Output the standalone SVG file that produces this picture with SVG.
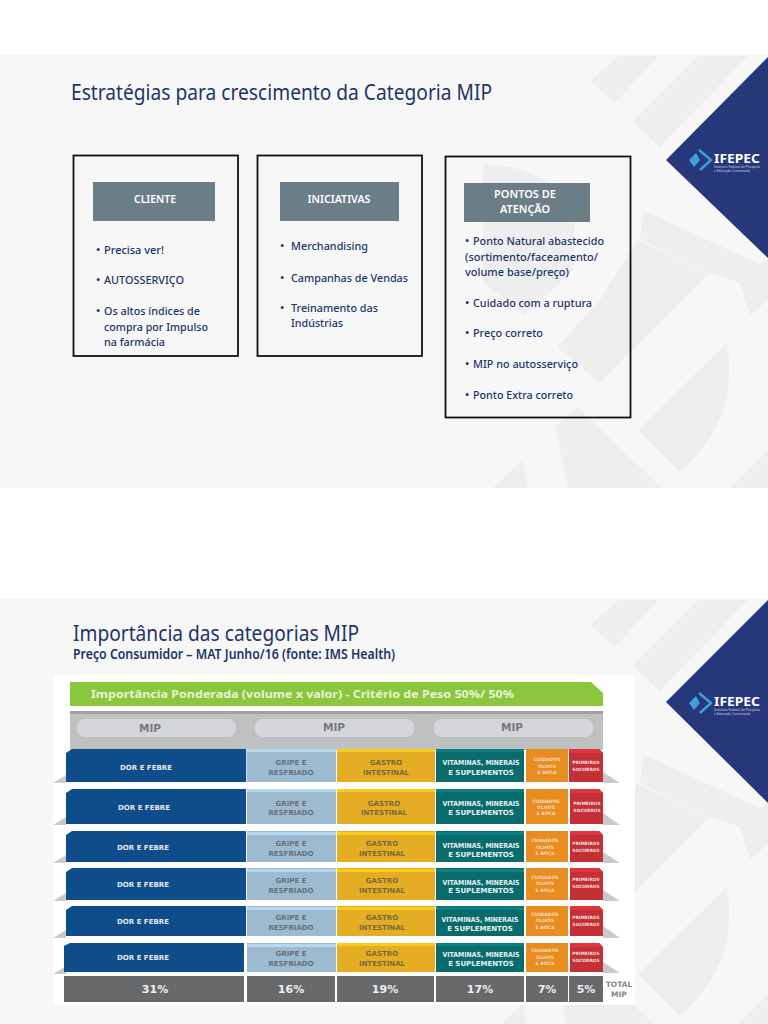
<svg xmlns="http://www.w3.org/2000/svg" width="768" height="1024" viewBox="0 0 768 1024">
<style>
text{font-family:"Noto Sans","Liberation Sans",sans-serif}
.w{fill:#eeeeee}
.box{fill:none;stroke:#111;stroke-width:1.8}
.hd{fill:#6b7d87}
.ht{fill:#fff;font-size:11.500px;font-weight:600;text-anchor:middle}
.b{fill:#1f3468;font-size:11.500px;font-weight:500}
.tt{fill:#1f3468}
.blue{fill:#0f4c8a}
.lb{fill:#9dbbd0}.lb2{fill:#b5d8ee}
.yl{fill:#e5ad24}.yl2{fill:#f9cc1a}
.te{fill:#0a6b6c}.te2{fill:#0c8082}
.or{fill:#e88d22}
.rd{fill:#c43035}.rd2{fill:#e0353c}
.sh{fill:#c8cbcd}
.rt{font-family:"DejaVu Sans",sans-serif;font-weight:700;text-anchor:middle}
.d{fill:#e6e8ec;font-size:7px}
.g{fill:#66717a;font-size:7px}
.y{fill:#776a3d;font-size:7px}
.v{fill:#e8f2f0;font-size:7px}
.c{fill:#f6dcb8;font-size:4.600px}
.p{fill:#f5dede;font-size:4.400px}
.tot{fill:#68696b}
.tp{font-family:"DejaVu Sans",sans-serif;font-weight:700;font-size:11px;fill:#eeeeee;text-anchor:middle}
.pill{fill:#d5d6d9}
.pt{font-family:"DejaVu Sans",sans-serif;font-weight:700;font-size:10.500px;fill:#77797d;text-anchor:middle}
</style>
<defs>
<clipPath id="s1"><rect x="0" y="55" width="768" height="433"/></clipPath>
<clipPath id="s2"><rect x="0" y="599" width="768" height="425"/></clipPath>
<g id="wm">
<rect x="0" y="55" width="768" height="433" fill="#f7f7f7"/>
<polygon class="w" points="591,81 618,56 658,56 615,103"/>
<polygon class="w" points="633,122 698,56 748,56 660,147"/>
<polygon class="w" points="643,210 768,268 768,283 740,283 710,273 640,240"/>
<polygon class="w" points="637,240 710,273 600,383 557,347 600,300"/>
<path class="w" d="M727 343L638 430L680 472Q740 420 727 343Z"/>
<polygon class="w" points="740,283 768,258 768,300 750,315"/>
<polygon class="w" points="555,427 577,407 662,488 568,488"/>
<polygon class="w" points="523,460 493,488 528,488"/>
<polygon class="w" points="768,450 730,488 768,488"/>
<path class="w" d="M483 283L525 315L573 270L575 215Q560 175 500 165L483 165Z"/>
</g>
<g id="logo">
<polygon points="689,160 696,153 700,160 694,167" fill="#3f9fd8"/>
<path d="M699 150L711 160L700 170" fill="none" stroke="#3f9fd8" stroke-width="2.400"/>
<text x="714" y="163" font-size="12.500" font-weight="700" fill="#fff" textLength="46" lengthAdjust="spacingAndGlyphs">IFEPEC</text>
<text x="714" y="168" font-size="3" fill="#c9d3e6" textLength="46" lengthAdjust="spacingAndGlyphs">Instituto Federal de Pesquisa</text>
<text x="714" y="172" font-size="3" fill="#c9d3e6" textLength="36" lengthAdjust="spacingAndGlyphs">e Educação Continuada</text>
</g>
</defs>
<rect width="768" height="1024" fill="#fff"/>

<g id="slide1-bg" clip-path="url(#s1)"><use href="#wm"/><polygon points="768,57 666,160 768,258" fill="#26387a"/><use href="#logo"/></g>
<g id="slide2-bg" clip-path="url(#s2)"><use href="#wm" transform="translate(0,544)"/><rect x="0" y="599" width="768" height="1" fill="#f7f7f7"/><polygon points="768,600 666,702 768,803" fill="#26387a"/><use href="#logo" transform="translate(0,543)"/></g>

<text id="title1" class="tt" x="71" y="100" font-size="21.500" textLength="421" lengthAdjust="spacingAndGlyphs">Estratégias para crescimento da Categoria MIP</text>

<g id="cliente">
<rect class="box" x="73.500" y="155.500" width="164.500" height="200.500"/>
<rect class="hd" x="93" y="182" width="122" height="39"/>
<text class="ht" x="155" y="203" textLength="42" lengthAdjust="spacingAndGlyphs">CLIENTE</text>
<text class="b" x="96" y="254">•</text><text class="b" x="104" y="254" textLength="60" lengthAdjust="spacingAndGlyphs">Precisa ver!</text>
<text class="b" x="96" y="284">•</text><text class="b" x="104" y="284" textLength="80" lengthAdjust="spacingAndGlyphs">AUTOSSERVIÇO</text>
<text class="b" x="96" y="315">•</text><text class="b" x="104" y="315" textLength="96" lengthAdjust="spacingAndGlyphs">Os altos índices de</text>
<text class="b" x="104" y="331" textLength="104" lengthAdjust="spacingAndGlyphs">compra por Impulso</text>
<text class="b" x="104" y="346" textLength="61" lengthAdjust="spacingAndGlyphs">na farmácia</text>
</g>
<g id="iniciativas">
<rect class="box" x="257.500" y="155.500" width="164.500" height="200.500"/>
<rect class="hd" x="280" y="182" width="119" height="39"/>
<text class="ht" x="339" y="203" textLength="63" lengthAdjust="spacingAndGlyphs">INICIATIVAS</text>
<text class="b" x="280" y="250">•</text><text class="b" x="291" y="250" textLength="77" lengthAdjust="spacingAndGlyphs">Merchandising</text>
<text class="b" x="280" y="282">•</text><text class="b" x="291" y="282" textLength="117" lengthAdjust="spacingAndGlyphs">Campanhas de Vendas</text>
<text class="b" x="280" y="312">•</text><text class="b" x="291" y="312" textLength="87" lengthAdjust="spacingAndGlyphs">Treinamento das</text>
<text class="b" x="291" y="327" textLength="52" lengthAdjust="spacingAndGlyphs">Indústrias</text>
</g>
<g id="pontos">
<rect class="box" x="445.500" y="156.500" width="185" height="261"/>
<rect class="hd" x="464" y="183" width="126" height="39"/>
<text class="ht" x="525" y="198" textLength="62" lengthAdjust="spacingAndGlyphs">PONTOS DE</text>
<text class="ht" x="525" y="213" textLength="50" lengthAdjust="spacingAndGlyphs">ATENÇÃO</text>
<text class="b" x="465" y="245">•</text><text class="b" x="473" y="245" textLength="131" lengthAdjust="spacingAndGlyphs">Ponto Natural abastecido</text>
<text class="b" x="465" y="261" textLength="133" lengthAdjust="spacingAndGlyphs">(sortimento/faceamento/</text>
<text class="b" x="465" y="276" textLength="104" lengthAdjust="spacingAndGlyphs">volume base/preço)</text>
<text class="b" x="465" y="307">•</text><text class="b" x="473" y="307" textLength="119" lengthAdjust="spacingAndGlyphs">Cuidado com a ruptura</text>
<text class="b" x="465" y="337">•</text><text class="b" x="473" y="337" textLength="70" lengthAdjust="spacingAndGlyphs">Preço correto</text>
<text class="b" x="465" y="368">•</text><text class="b" x="473" y="368" textLength="105" lengthAdjust="spacingAndGlyphs">MIP no autosserviço</text>
<text class="b" x="465" y="399">•</text><text class="b" x="473" y="399" textLength="100" lengthAdjust="spacingAndGlyphs">Ponto Extra correto</text>
</g>

<text id="title2" class="tt" x="73" y="641" font-size="21.500" textLength="286" lengthAdjust="spacingAndGlyphs">Importância das categorias MIP</text>
<text id="subtitle2" class="tt" x="73" y="659" font-size="13.500" font-weight="600" textLength="322" lengthAdjust="spacingAndGlyphs">Preço Consumidor – MAT Junho/16 (fonte: IMS Health)</text>

<g id="chart">
<rect x="53" y="675" width="582" height="330" fill="#fff"/>
<polygon id="banner" points="70,682 591,682 603,693 603,706 70,706" fill="#8cc63f"/>
<text x="91" y="698" font-family="DejaVu Sans" font-weight="700" font-size="10" fill="#e8f3d4" textLength="423" lengthAdjust="spacingAndGlyphs">Importância Ponderada (volume x valor) - Critério de Peso 50%/ 50%</text>
<g id="header-band">
<polygon points="74,711 603,711 603,750 70,750 70,715" fill="#bfc0c2"/>
<rect x="70" y="711" width="533" height="3" fill="#9fa1a4"/>
<rect class="pill" x="77" y="719" width="159" height="18" rx="8"/><text class="pt" x="150" y="732">MIP</text>
<rect class="pill" x="255" y="719" width="159" height="18" rx="8"/><text class="pt" x="334" y="731">MIP</text>
<rect class="pill" x="434" y="719" width="159" height="18" rx="8"/><text class="pt" x="512" y="731">MIP</text>
</g>

<g id="row1">
<polygon class="sh" points="53,783 66,775 66,783"/><polygon class="sh" points="603,772 620,783 603,783"/>
<polygon class="blue" points="66,753 72,749 246,749 246,782 66,782"/>
<rect class="lb" x="246.500" y="749" width="89.500" height="33"/><rect class="lb2" x="246.500" y="749" width="89.500" height="3"/>
<rect class="yl" x="337" y="749" width="98" height="33"/><rect class="yl2" x="337" y="749" width="98" height="3"/>
<rect class="te" x="436" y="749" width="88" height="33"/><rect class="te2" x="436" y="749" width="88" height="3"/>
<rect class="or" x="526" y="749" width="42" height="33"/>
<polygon class="rd" points="569,749 599,749 603,753 603,782 569,782"/><polygon class="rd2" points="569,749 599,749 603,753 569,753"/>
<text class="rt d" x="146" y="770">DOR E FEBRE</text>
<text class="rt g" x="291" y="765">GRIPE E</text><text class="rt g" x="291" y="775">RESFRIADO</text>
<text class="rt y" x="386" y="765">GASTRO</text><text class="rt y" x="386" y="775">INTESTINAL</text>
<text class="rt v" x="481" y="765" textLength="77" lengthAdjust="spacingAndGlyphs">VITAMINAS, MINERAIS</text><text class="rt v" x="481" y="775">E SUPLEMENTOS</text>
<text class="rt c" x="547" y="761">CUIDADOS</text><text class="rt c" x="547" y="768">OLHOS</text><text class="rt c" x="547" y="774">E BOCA</text>
<text class="rt p" x="586" y="764">PRIMEIROS</text><text class="rt p" x="586" y="771">SOCORROS</text>
</g>
<g id="row2">
<polygon class="sh" points="53,825 66,817 66,825"/><polygon class="sh" points="603,813 620,825 603,825"/>
<polygon class="blue" points="66,793 72,789 246,789 246,824 66,824"/>
<rect class="lb" x="247" y="789" width="89" height="35"/><rect class="lb2" x="247" y="789" width="89" height="3"/>
<rect class="yl" x="337" y="789" width="98" height="35"/><rect class="yl2" x="337" y="789" width="98" height="3"/>
<rect class="te" x="436" y="789" width="88" height="35"/><rect class="te2" x="436" y="789" width="88" height="3"/>
<rect class="or" x="526" y="789" width="42" height="35"/>
<polygon class="rd" points="570,789 599,789 603,793 603,824 570,824"/><polygon class="rd2" points="570,789 599,789 603,793 570,793"/>
<text class="rt d" x="144" y="810">DOR E FEBRE</text>
<text class="rt g" x="291" y="806">GRIPE E</text><text class="rt g" x="291" y="815">RESFRIADO</text>
<text class="rt y" x="384" y="806">GASTRO</text><text class="rt y" x="384" y="815">INTESTINAL</text>
<text class="rt v" x="481" y="806" textLength="77" lengthAdjust="spacingAndGlyphs">VITAMINAS, MINERAIS</text><text class="rt v" x="481" y="815">E SUPLEMENTOS</text>
<text class="rt c" x="546" y="803">CUIDADOS</text><text class="rt c" x="546" y="809">OLHOS</text><text class="rt c" x="546" y="815">E BOCA</text>
<text class="rt p" x="587" y="805">PRIMEIROS</text><text class="rt p" x="587" y="812">SOCORROS</text>
</g>
<g id="row3">
<polygon class="sh" points="53,863 66,855 66,863"/><polygon class="sh" points="603,852 620,863 603,863"/>
<polygon class="blue" points="66,835 72,831 246,831 246,862 66,862"/>
<rect class="lb" x="247" y="831" width="89" height="31"/><rect class="lb2" x="247" y="832" width="89" height="3"/>
<rect class="yl" x="337" y="831" width="98" height="31"/><rect class="yl2" x="337" y="832" width="98" height="3"/>
<rect class="te" x="436" y="831" width="88" height="31"/><rect class="te2" x="436" y="832" width="88" height="3"/>
<rect class="or" x="526" y="831" width="42" height="31"/>
<polygon class="rd" points="570,831 599,831 603,835 603,862 570,862"/><polygon class="rd2" points="570,831 599,831 603,835 570,835"/>
<text class="rt d" x="143" y="850">DOR E FEBRE</text>
<text class="rt g" x="291" y="846">GRIPE E</text><text class="rt g" x="291" y="856">RESFRIADO</text>
<text class="rt y" x="382" y="846">GASTRO</text><text class="rt y" x="382" y="856">INTESTINAL</text>
<text class="rt v" x="481" y="848" textLength="77" lengthAdjust="spacingAndGlyphs">VITAMINAS, MINERAIS</text><text class="rt v" x="481" y="857">E SUPLEMENTOS</text>
<text class="rt c" x="545" y="842">CUIDADOS</text><text class="rt c" x="545" y="849">OLHOS</text><text class="rt c" x="545" y="855">E BOCA</text>
<text class="rt p" x="586" y="845">PRIMEIROS</text><text class="rt p" x="586" y="852">SOCORROS</text>
</g>
<g id="row4">
<polygon class="sh" points="53,901 66,893 66,901"/><polygon class="sh" points="603,890 620,901 603,901"/>
<polygon class="blue" points="66,872 72,868 246,868 246,900 66,900"/>
<rect class="lb" x="247" y="868" width="89" height="32"/><rect class="lb2" x="247" y="869" width="89" height="3"/>
<rect class="yl" x="337" y="868" width="98" height="32"/><rect class="yl2" x="337" y="869" width="98" height="3"/>
<rect class="te" x="436" y="868" width="88" height="32"/><rect class="te2" x="436" y="869" width="88" height="3"/>
<rect class="or" x="526" y="868" width="42" height="32"/>
<polygon class="rd" points="570,868 599,868 603,872 603,900 570,900"/><polygon class="rd2" points="570,868 599,868 603,872 570,872"/>
<text class="rt d" x="143" y="887">DOR E FEBRE</text>
<text class="rt g" x="291" y="883">GRIPE E</text><text class="rt g" x="291" y="893">RESFRIADO</text>
<text class="rt y" x="382" y="883">GASTRO</text><text class="rt y" x="382" y="893">INTESTINAL</text>
<text class="rt v" x="481" y="885" textLength="77" lengthAdjust="spacingAndGlyphs">VITAMINAS, MINERAIS</text><text class="rt v" x="481" y="893">E SUPLEMENTOS</text>
<text class="rt c" x="545" y="879">CUIDADOS</text><text class="rt c" x="545" y="885">OLHOS</text><text class="rt c" x="545" y="892">E BOCA</text>
<text class="rt p" x="586" y="881">PRIMEIROS</text><text class="rt p" x="586" y="888">SOCORROS</text>
</g>
<g id="row5">
<polygon class="sh" points="53,938 66,930 66,938"/><polygon class="sh" points="603,926 620,938 603,938"/>
<polygon class="blue" points="66,910 72,906 246,906 246,936 66,936"/>
<rect class="lb" x="247" y="906" width="89" height="30"/><rect class="lb2" x="247" y="907" width="89" height="3"/>
<rect class="yl" x="337" y="906" width="98" height="30"/><rect class="yl2" x="337" y="907" width="98" height="3"/>
<rect class="te" x="436" y="906" width="88" height="30"/><rect class="te2" x="436" y="907" width="88" height="3"/>
<rect class="or" x="526" y="906" width="42" height="30"/>
<polygon class="rd" points="570,906 599,906 603,910 603,936 570,936"/><polygon class="rd2" points="570,906 599,906 603,910 570,910"/>
<text class="rt d" x="143" y="924">DOR E FEBRE</text>
<text class="rt g" x="291" y="920">GRIPE E</text><text class="rt g" x="291" y="930">RESFRIADO</text>
<text class="rt y" x="382" y="920">GASTRO</text><text class="rt y" x="382" y="930">INTESTINAL</text>
<text class="rt v" x="480" y="922" textLength="77" lengthAdjust="spacingAndGlyphs">VITAMINAS, MINERAIS</text><text class="rt v" x="480" y="931">E SUPLEMENTOS</text>
<text class="rt c" x="545" y="916">CUIDADOS</text><text class="rt c" x="545" y="922">OLHOS</text><text class="rt c" x="545" y="929">E BOCA</text>
<text class="rt p" x="586" y="919">PRIMEIROS</text><text class="rt p" x="586" y="926">SOCORROS</text>
</g>
<g id="row6">
<polygon class="sh" points="53,974 66,966 66,974"/><polygon class="sh" points="603,962 620,973 603,973"/>
<polygon class="blue" points="64,946 70,943 244,943 244,972 64,972"/>
<rect class="lb" x="247" y="943" width="89" height="29"/><rect class="lb2" x="247" y="944" width="89" height="3"/>
<rect class="yl" x="337" y="943" width="98" height="29"/><rect class="yl2" x="337" y="943" width="98" height="3"/>
<rect class="te" x="436" y="943" width="88" height="29"/><rect class="te2" x="436" y="943" width="88" height="3"/>
<rect class="or" x="526" y="943" width="42" height="29"/>
<polygon class="rd" points="570,943 599,943 603,947 603,972 570,972"/><polygon class="rd2" points="570,943 599,943 603,947 570,947"/>
<text class="rt d" x="143" y="960">DOR E FEBRE</text>
<text class="rt g" x="291" y="956">GRIPE E</text><text class="rt g" x="291" y="966">RESFRIADO</text>
<text class="rt y" x="382" y="956">GASTRO</text><text class="rt y" x="382" y="966">INTESTINAL</text>
<text class="rt v" x="481" y="957" textLength="77" lengthAdjust="spacingAndGlyphs">VITAMINAS, MINERAIS</text><text class="rt v" x="481" y="966">E SUPLEMENTOS</text>
<text class="rt c" x="545" y="952">CUIDADOS</text><text class="rt c" x="545" y="959">OLHOS</text><text class="rt c" x="545" y="965">E BOCA</text>
<text class="rt p" x="586" y="955">PRIMEIROS</text><text class="rt p" x="586" y="962">SOCORROS</text>
</g>
<g id="totals">
<rect class="tot" x="64" y="976" width="180" height="26"/><text class="tp" x="155" y="993">31%</text>
<rect class="tot" x="247" y="976" width="88" height="26"/><text class="tp" x="291" y="993">16%</text>
<rect class="tot" x="337" y="976" width="97" height="26"/><text class="tp" x="385" y="993">19%</text>
<rect class="tot" x="436" y="976" width="88" height="26"/><text class="tp" x="480" y="993">17%</text>
<rect class="tot" x="526" y="976" width="42" height="26"/><text class="tp" x="547" y="993">7%</text>
<rect class="tot" x="569" y="976" width="34" height="26"/><text class="tp" x="586" y="993">5%</text>
<text class="rt" x="619" y="987" font-size="7.500" fill="#85878a">TOTAL</text>
<text class="rt" x="619" y="997" font-size="7.500" fill="#85878a">MIP</text>
</g>
</g>
</svg>
